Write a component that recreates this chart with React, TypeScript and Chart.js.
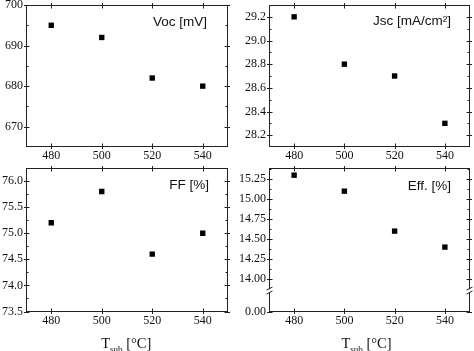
import React, { useEffect, useRef } from "react";
import { Chart, registerables } from "chart.js";

Chart.register(...registerables);

// ---- Data ----
const temperatures = [480, 500, 520, 540];
const vocValues = [695, 692, 682, 680];
const jscValues = [29.2, 28.8, 28.7, 28.3];
const ffValues = [75.2, 75.8, 74.6, 75.0];
const effValues = [15.3, 15.1, 14.6, 14.4];

// ---- Tick labels ----
const xTickLabels = [480, 500, 520, 540];
const vocTicks = [670, 680, 690, 700];
const jscTicks = [28.2, 28.4, 28.6, 28.8, 29.0, 29.2];
const ffTicks = [73.5, 74.0, 74.5, 75.0, 75.5, 76.0];
const effTicks = [14.0, 14.25, 14.5, 14.75, 15.0, 15.25];
const effBrokenZeroTick = 0.0;

const panelLabels = ["Voc [mV]", "Jsc [mA/cm²]", "FF [%]", "Eff. [%]"];

const W = 474;
const H = 351;
const Y_W = 30;
const X_H = 20;
const SERIF = '"Liberation Serif", "Times New Roman", serif';
const SANS = '"Liberation Sans", Arial, sans-serif';
const INK = "#111";

type Panel = {
  values: number[];
  label: string;
  labelDx: number;
  labelDy: number;
  yMin: number;
  yMax: number;
  majors: number[];
  minorStep: number;
  minorFrom: number;
  decimals: number;
  area: { left: number; top: number; right: number; bottom: number };
  xTitle: boolean;
  titleShift: number;
  broken?: { zeroPos: number; breakPos: number };
};

const EFF_ZERO_POS = 13.5875;

const panels: Panel[] = [
  {
    values: vocValues,
    label: panelLabels[0],
    labelDx: 21,
    labelDy: 17.5,
    yMin: 665,
    yMax: 700,
    majors: vocTicks,
    minorStep: 5,
    minorFrom: 665,
    decimals: 0,
    area: { left: 26, top: 5, right: 228, bottom: 147 },
    xTitle: false,
    titleShift: 0,
  },
  {
    values: jscValues,
    label: panelLabels[1],
    labelDx: 19,
    labelDy: 16.5,
    yMin: 28.1,
    yMax: 29.3,
    majors: jscTicks,
    minorStep: 0.1,
    minorFrom: 28.1,
    decimals: 1,
    area: { left: 269, top: 5, right: 471, bottom: 147 },
    xTitle: false,
    titleShift: 0,
  },
  {
    values: ffValues,
    label: panelLabels[2],
    labelDx: 19,
    labelDy: 17.5,
    yMin: 73.5,
    yMax: 76.25,
    majors: ffTicks,
    minorStep: 0.25,
    minorFrom: 73.5,
    decimals: 1,
    area: { left: 26, top: 168, right: 228, bottom: 311.5 },
    xTitle: true,
    titleShift: -0.7,
  },
  {
    values: effValues,
    label: panelLabels[3],
    labelDx: 19,
    labelDy: 18.5,
    yMin: EFF_ZERO_POS,
    yMax: 15.39,
    majors: [EFF_ZERO_POS, ...effTicks],
    minorStep: 0.125,
    minorFrom: 14.0,
    decimals: 2,
    area: { left: 269, top: 168, right: 471, bottom: 312 },
    xTitle: true,
    titleShift: -3,
    broken: { zeroPos: EFF_ZERO_POS, breakPos: 13.856 },
  },
];

function line(ctx: CanvasRenderingContext2D, x1: number, y1: number, x2: number, y2: number) {
  ctx.beginPath();
  ctx.moveTo(x1, y1);
  ctx.lineTo(x2, y2);
  ctx.stroke();
}

function makeFramePlugin(p: Panel) {
  return {
    id: "frame",
    afterDatasetsDraw(chart: any) {
      const ctx: CanvasRenderingContext2D = chart.ctx;
      const { left, right, top, bottom } = chart.chartArea;
      const xs = chart.scales.x;
      const ys = chart.scales.y;
      const L = Math.round(left) + 0.5;
      const R = Math.round(right) - 0.5;
      const T = Math.round(top) + 0.5;
      const B = Math.round(bottom) - 0.5;
      ctx.save();
      ctx.strokeStyle = "#222";
      ctx.lineWidth = 1;
      ctx.strokeRect(L, T, R - L, B - T);

      // y major ticks
      p.majors.forEach((v) => {
        const py = Math.round(ys.getPixelForValue(v)) + 0.5;
        line(ctx, L - 2.5, py, L + 3, py);
        line(ctx, R - 3, py, R + 2.5, py);
      });
      // y minor ticks
      const n = Math.round((p.yMax - p.minorFrom) / p.minorStep);
      for (let i = 1; i <= n; i++) {
        const v = p.minorFrom + i * p.minorStep;
        if (v >= p.yMax - 1e-9) break;
        if (p.majors.some((m) => Math.abs(m - v) < 1e-6)) continue;
        const py = Math.round(ys.getPixelForValue(v)) + 0.5;
        line(ctx, L, py, L + 2, py);
        line(ctx, R - 2, py, R, py);
      }
      // x ticks
      xTickLabels.forEach((v) => {
        const px = Math.round(xs.getPixelForValue(v)) + 0.5;
        line(ctx, px, B + 2.5, px, B - 3);
        line(ctx, px, T - 2.5, px, T + 3);
      });
      for (let v = xs.min + 10; v < xs.max; v += 20) {
        const px = Math.round(xs.getPixelForValue(v)) + 0.5;
        line(ctx, px, B, px, B - 2);
        line(ctx, px, T, px, T + 2);
      }

      // axis break marks
      if (p.broken) {
        const by = ys.getPixelForValue(p.broken.breakPos);
        [L, R].forEach((ax) => {
          ctx.fillStyle = "#fff";
          ctx.fillRect(ax - 1.5, by - 1.5, 3, 3);
          ctx.strokeStyle = "#222";
          line(ctx, ax - 3, by - 0.5, ax + 3, by - 3.5);
          line(ctx, ax - 3, by + 3.5, ax + 3, by + 0.5);
        });
      }

      // panel label
      ctx.fillStyle = INK;
      ctx.font = `13.5px ${SANS}`;
      ctx.textAlign = "right";
      ctx.textBaseline = "middle";
      ctx.fillText(p.label, right - p.labelDx, top + p.labelDy);

      // x axis title T_sub [°C]
      if (p.xTitle) {
        const cx = (left + right) / 2 + p.titleShift;
        const base = bottom + 36;
        ctx.textAlign = "left";
        ctx.textBaseline = "alphabetic";
        ctx.font = `14.5px ${SERIF}`;
        const wT = ctx.measureText("T").width;
        const wRest = ctx.measureText(" [°C]").width;
        ctx.font = `9px ${SERIF}`;
        const wSub = ctx.measureText("sub").width;
        const x0 = cx - (wT + wSub + wRest) / 2;
        ctx.font = `14.5px ${SERIF}`;
        ctx.fillText("T", x0, base);
        ctx.font = `9px ${SERIF}`;
        ctx.fillText("sub", x0 + wT, base + 4);
        ctx.font = `14.5px ${SERIF}`;
        ctx.fillText(" [°C]", x0 + wT + wSub, base);
      }
      ctx.restore();
    },
  };
}

function PanelChart({ p }: { p: Panel }) {
  const ref = useRef<HTMLCanvasElement | null>(null);
  useEffect(() => {
    if (!ref.current) return;
    const tickFont = { family: SERIF, size: 12 };
    const chart = new Chart(ref.current, {
      type: "scatter",
      data: {
        datasets: [
          {
            data: temperatures.map((t, i) => ({ x: t, y: p.values[i] })),
            showLine: false,
            pointStyle: "rect",
            pointRadius: 3.8,
            pointBackgroundColor: "#000",
            pointBorderWidth: 0,
          } as any,
        ],
      },
      options: {
        responsive: false,
        maintainAspectRatio: false,
        animation: false,
        devicePixelRatio: 1,
        events: [],
        layout: {
          padding: {
            left: p.area.left - Y_W,
            top: p.area.top,
            right: W - p.area.right,
            bottom: H - p.area.bottom - X_H,
          },
        },
        plugins: {
          legend: { display: false },
          tooltip: { enabled: false },
        },
        scales: {
          x: {
            type: "linear",
            min: 470,
            max: 550,
            grid: { display: false, drawTicks: false },
            border: { display: false },
            afterBuildTicks: (s: any) => {
              s.ticks = xTickLabels.map((v) => ({ value: v }));
            },
            afterFit: (s: any) => {
              s.height = X_H;
              s.paddingLeft = 0;
              s.paddingRight = 0;
            },
            ticks: {
              font: tickFont,
              color: INK,
              padding: 2,
              maxRotation: 0,
              autoSkip: false,
              callback: (v: any) => String(v),
            },
          },
          y: {
            type: "linear",
            min: p.yMin,
            max: p.yMax,
            grid: { display: false, drawTicks: false },
            border: { display: false },
            afterBuildTicks: (s: any) => {
              s.ticks = p.majors.map((v) => ({ value: v }));
            },
            afterFit: (s: any) => {
              s.width = Y_W;
              s.paddingTop = 0;
              s.paddingBottom = 0;
            },
            ticks: {
              font: tickFont,
              color: INK,
              padding: 3,
              autoSkip: false,
              callback: (v: any) => {
                const n = Number(v);
                if (p.broken && Math.abs(n - p.broken.zeroPos) < 1e-6) {
                  return effBrokenZeroTick.toFixed(2);
                }
                return n.toFixed(p.decimals);
              },
            },
          },
        },
      } as any,
      plugins: [makeFramePlugin(p)],
    });
    return () => chart.destroy();
  }, [p]);
  return (
    <canvas
      ref={ref}
      width={W}
      height={H}
      style={{ position: "absolute", left: 0, top: 0, width: W, height: H }}
    />
  );
}

export default function App() {
  return (
    <div
      style={{
        position: "absolute",
        left: 0,
        top: 0,
        width: W,
        height: H,
        background: "#fff",
        overflow: "hidden",
      }}
    >
      {panels.map((p, i) => (
        <PanelChart key={i} p={p} />
      ))}
    </div>
  );
}
